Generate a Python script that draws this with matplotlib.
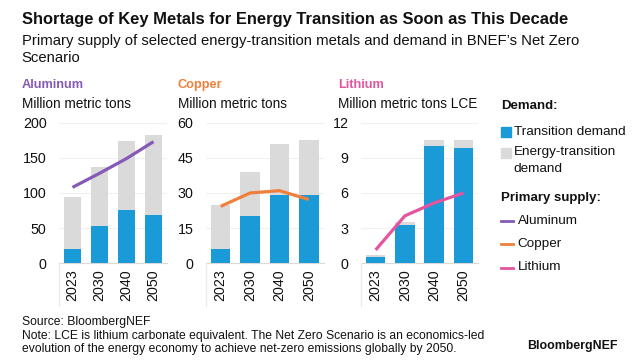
"""Shortage of key metals for the energy transition (BNEF Net Zero Scenario)."""

import matplotlib

matplotlib.use("Agg")
import matplotlib.pyplot as plt
from matplotlib.lines import Line2D
from matplotlib.patches import Rectangle

plt.rcParams["font.family"] = ["Liberation Sans", "DejaVu Sans"]

years = ["2023", "2030", "2040", "2050"]

aluminum_total = [94, 137, 174, 182]
aluminum_transition = [20, 53, 76, 68]
aluminum_supply = [108, 128, 149, 173]

copper_total = [25, 39, 51, 52.5]
copper_transition = [6.1, 20.3, 29, 29.1]
copper_supply = [24.3, 30, 31, 27.2]

lithium_total = [0.71, 3.54, 10.55, 10.5]
lithium_transition = [0.51, 3.29, 10.05, 9.83]
lithium_supply = [1.14, 4.05, 5.15, 6.0]

panel_names = ["Aluminum", "Copper", "Lithium"]
panel_units = ["Million metric tons", "Million metric tons", "Million metric tons LCE"]
panel_ticks = [[0, 50, 100, 150, 200], [0, 15, 30, 45, 60], [0, 3, 6, 9, 12]]

BLUE = "#1a9bd7"
GRAY = "#dadada"
COLORS = ["#8559b8", "#f07f3c", "#e3559e"]
TEXT = "#111111"

W, H = 640, 362


def fx(px):
    return px / W


def fy(py):
    return 1 - py / H


fig = plt.figure(figsize=(6.4, 3.62), dpi=100)
fig.patch.set_facecolor("white")
renderer = fig.canvas.get_renderer()


def fit(t, width_px):
    """Scale a text's font size so it spans width_px pixels."""
    w = t.get_window_extent(renderer).width
    t.set_fontsize(t.get_fontsize() * width_px / w)
    return t.get_fontsize()


title = fig.text(fx(21.5), fy(24), "Shortage of Key Metals for Energy Transition as Soon as This Decade",
                 fontsize=12, fontweight="bold", color=TEXT, va="baseline")
fit(title, 544)
sub = fig.text(fx(21.5), fy(45.5), "Primary supply of selected energy-transition metals and demand in BNEF\u2019s Net Zero",
               fontsize=10, color=TEXT, va="baseline")
sub_size = fit(sub, 557)
fig.text(fx(21.5), fy(62), "Scenario", fontsize=sub_size, color=TEXT, va="baseline")

# axes pixel extents (left, right) and shared vertical extent
panel_x = [(59, 167), (206, 323.5), (361, 478)]
ax_top, ax_bottom = 122.7, 263.3
title_x = [21.5, 178, 338]

data = [
    (aluminum_total, aluminum_transition, aluminum_supply),
    (copper_total, copper_transition, copper_supply),
    (lithium_total, lithium_transition, lithium_supply),
]

for i, (total, trans, supply) in enumerate(data):
    left, right = panel_x[i]
    ax = fig.add_axes([fx(left), fy(ax_bottom), (right - left) / W, (ax_bottom - ax_top) / H])
    x = range(len(years))
    ax.bar(x, total, width=0.66, color=GRAY, zorder=2)
    ax.bar(x, trans, width=0.66, color=BLUE, zorder=3)
    ax.plot(x, supply, color=COLORS[i], lw=2.3, zorder=4, solid_capstyle="butt")
    ticks = panel_ticks[i]
    ax.set_ylim(0, ticks[-1])
    ax.set_xlim(-0.5, 3.5)
    ax.set_yticks(ticks)
    ax.set_yticklabels([str(t) for t in ticks])
    ax.set_xticks(list(x))
    ax.set_xticklabels(years, rotation=90)
    ax.tick_params(axis="y", length=0, pad=9, labelsize=10.3, labelcolor=TEXT)
    ax.tick_params(axis="x", length=0, pad=4.5, labelsize=10.3, labelcolor=TEXT)
    ax.grid(axis="y", color="#f0f0f0", lw=0.8, zorder=0)
    for s in ["top", "right", "left"]:
        ax.spines[s].set_visible(False)
    ax.spines["bottom"].set_color("#d8d8d8")
    ax.spines["bottom"].set_linewidth(0.8)
    ax.set_facecolor("none")
    # faint separator to the left of the year labels
    fig.add_artist(Line2D([fx(left), fx(left)], [fy(ax_bottom), fy(306)],
                          color="#e8e8e8", lw=0.8, transform=fig.transFigure))

    fig.text(fx(title_x[i]), fy(88.3), panel_names[i], fontsize=9.2, fontweight="bold",
             color=COLORS[i], va="baseline")
    fig.text(fx(title_x[i]), fy(108.3), panel_units[i], fontsize=9.8, color=TEXT, va="baseline")

# legend
lx = 501
fig.text(fx(lx), fy(109.5), "Demand:", fontsize=9.5, fontweight="bold", color=TEXT, va="baseline")
fig.add_artist(Rectangle((fx(lx), fy(137)), 10 / W, 10 / H, color=BLUE, transform=fig.transFigure))
fig.text(fx(513.5), fy(132), "Transition demand", fontsize=9.7, color=TEXT, va="center")
fig.add_artist(Rectangle((fx(lx), fy(158)), 10 / W, 10 / H, color=GRAY, transform=fig.transFigure))
fig.text(fx(513.5), fy(152.5), "Energy-transition", fontsize=9.7, color=TEXT, va="center")
fig.text(fx(513.5), fy(168.5), "demand", fontsize=9.7, color=TEXT, va="center")
fig.text(fx(lx), fy(201), "Primary supply:", fontsize=9.5, fontweight="bold", color=TEXT, va="baseline")
for j, (name, ly) in enumerate(zip(panel_names, [221, 244, 267.5])):
    fig.add_artist(Line2D([fx(lx), fx(513)], [fy(ly), fy(ly)], color=COLORS[j], lw=2,
                          transform=fig.transFigure))
    fig.text(fx(517.5), fy(ly), name, fontsize=9.7, color=TEXT, va="center")

# footer
note = fig.text(fx(21.5), fy(339), "Note: LCE is lithium carbonate equivalent. The Net Zero Scenario is an economics-led",
                fontsize=8.5, color=TEXT, va="baseline")
note_size = fit(note, 462)
fig.text(fx(21.5), fy(325.5), "Source: BloombergNEF", fontsize=note_size, color=TEXT, va="baseline")
fig.text(fx(21.5), fy(352), "evolution of the energy economy to achieve net-zero emissions globally by 2050.",
         fontsize=note_size, color=TEXT, va="baseline")
brand = fig.text(fx(527), fy(348.5), "BloombergNEF", fontsize=9, fontweight="bold", color=TEXT,
                 va="baseline")
fit(brand, 90)

fig.savefig("out.png", dpi=100)
